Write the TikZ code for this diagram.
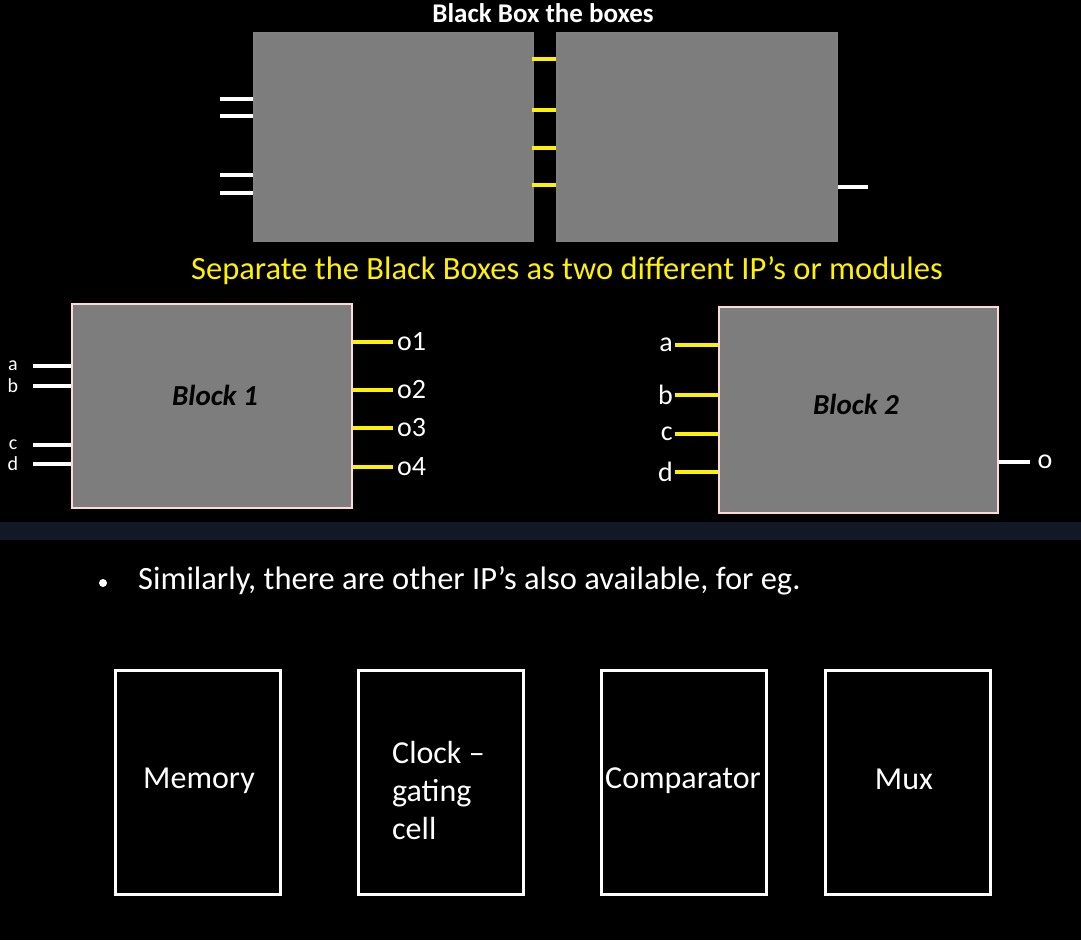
\documentclass[tikz,border=0pt]{standalone}
\usepackage{fontspec}
\setmainfont{Carlito}
\definecolor{band}{HTML}{121826}
\begin{document}
\begin{tikzpicture}[x=1pt,y=-1pt,
  gbox/.style={fill=gray!98!black,draw=#1,line width=2pt,minimum width=0,anchor=north west,inner sep=0},
  wst/.style={white,line width=3.5pt},
  yst/.style={yellow,line width=3.5pt},
  lbl/.style={text=white,font=\fontsize{28}{28}\selectfont,inner sep=0},
  ip/.style={draw=white,line width=3pt,anchor=north west,inner sep=0,minimum width=165pt,minimum height=224pt}]
\fill[black] (0,0) rectangle (1081,940);
\fill[band] (0,522) rectangle (1081,540);
\node[text=white,font=\bfseries\fontsize{27}{27}\selectfont] (title) at (543,13) {Black Box the boxes};
% top boxes
\node[gbox=gray,minimum width=279pt,minimum height=208pt] (t1) at (253,32) {};
\node[gbox=gray,minimum width=280pt,minimum height=208pt] (t2) at (556,32) {};
\foreach \y in {99,116,175,193}{\coordinate (tl\y) at (220,\y); \draw[wst] (tl\y) -- (t1.west |- tl\y);}
\foreach \y in {59,110,148,185}{\coordinate (tm\y) at (532,\y); \draw[yst] (tm\y) -- (t2.west |- tm\y);}
\coordinate (tr) at (868,187); \draw[wst] (t2.east |- tr) -- (tr);
\node[text=yellow,font=\fontsize{32.5}{32.5}\selectfont] (sep) at (567,271) {Separate the Black Boxes as two different IP’s or modules};
% block1
\node[gbox=pink!60!white,minimum width=280pt,minimum height=204pt] (b1) at (71,303) {};
\node[font=\itshape\bfseries\fontsize{29}{29}\selectfont] at (215,395) {Block 1};
\foreach \y/\t in {366/a,386/b,445/c,464/d}{\coordinate (bl\t) at (33,\y); \draw[wst] (bl\t) -- (b1.west |- bl\t); \node[lbl,font=\fontsize{20}{20}\selectfont] at (13,\y) {\t};}
\foreach \y/\t in {342/o1,390/o2,428/o3,467/o4}{\coordinate (br\t) at (393,\y); \draw[yst] (b1.east |- br\t) -- (br\t); \node[lbl,anchor=west] at (397,\y) {\t};}
% block2
\node[gbox=pink!60!white,minimum width=279pt,minimum height=206pt] (b2) at (718,306) {};
\node[font=\itshape\bfseries\fontsize{29}{29}\selectfont] at (856,404) {Block 2};
\foreach \y/\t in {345/a,395/b,434/c,472/d}{\coordinate (cl\t) at (675,\y); \draw[yst] (cl\t) -- (b2.west |- cl\t); \node[lbl,anchor=east] at (673,\y) {\t};}
\coordinate (co) at (1030,462); \draw[wst] (b2.east |- co) -- (co); \node[lbl] at (1045,462) {o};
% bullet
\fill[white] (103,583) circle (4);
\node[lbl,anchor=west,font=\fontsize{32.5}{32.5}\selectfont] (bul) at (138,581) {Similarly, there are other IP’s also available, for eg.};
% IP boxes
\node[ip] (m1) at (114,669) {};
\node[ip] (m2) at (357,669) {};
\node[ip] (m3) at (600,669) {};
\node[ip] (m4) at (824,669) {};
\node[lbl,font=\fontsize{32}{32}\selectfont] at (199,781) {Memory};
\node[lbl,font=\fontsize{32}{38}\selectfont,align=left,anchor=west] at (392,790) {Clock –\\gating\\cell};
\node[lbl,font=\fontsize{32}{32}\selectfont] at (683,781) {Comparator};
\node[lbl,font=\fontsize{32}{32}\selectfont] at (904,779) {Mux};
\end{tikzpicture}
\end{document}
